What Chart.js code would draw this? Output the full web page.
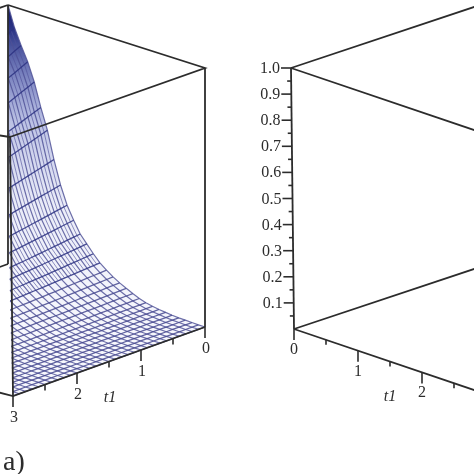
<!DOCTYPE html>
<html>
<head>
<meta charset="utf-8">
<title>t1 surface</title>
<script src="https://cdn.jsdelivr.net/npm/chart.js@4/dist/chart.umd.min.js"></script>
<style>
  html, body { margin: 0; padding: 0; background: #fff; }
  canvas { display: block; filter: blur(0.5px); }
</style>
</head>
<body>
<canvas id="myChart" width="474" height="474"></canvas>
<script>
// heights read along the t1 = 0 edge, for t2 = 0, 0.1 ... 3
const t2Heights = [0, 0, 0.001, 0.002, 0.003, 0.005, 0.008, 0.011, 0.015, 0.021, 0.029,
  0.04, 0.052, 0.065, 0.08, 0.098, 0.118, 0.145, 0.175, 0.205, 0.25,
  0.3, 0.37, 0.46, 0.565, 0.645, 0.735, 0.805, 0.86, 0.92, 1];
// how much a t2 row has dropped, for t1 = 0, 0.1 ... 3
const t1Falloff = [1, 0.985, 0.97, 0.955, 0.94, 0.925, 0.91, 0.895, 0.88, 0.867, 0.855,
  0.842, 0.83, 0.818, 0.806, 0.795, 0.784, 0.773, 0.762, 0.752, 0.742,
  0.732, 0.722, 0.713, 0.704, 0.695, 0.686, 0.678, 0.67, 0.662, 0.654];
// same drop at t1 = 0.05, 0.15 ... for the finer lines on the steep part
const t1FalloffMid = [0.992, 0.978, 0.962, 0.948, 0.932, 0.918, 0.902, 0.888, 0.874, 0.861,
  0.848, 0.836, 0.824, 0.812];
const zTicks = [0.1, 0.2, 0.3, 0.4, 0.5, 0.6, 0.7, 0.8, 0.9, 1.0];
const zMinorTicks = [0.05, 0.15, 0.25, 0.35, 0.45, 0.55, 0.65, 0.75, 0.85, 0.95];
const t1Ticks = [0, 1, 2, 3];
const t1MinorTicks = [0.5, 1.5, 2.5];
const T_MAX = 3;
const STEPS = 30;
const STEEP_FROM = 16;

// view of each 3d box: where t1, t2 and z end up in the page scale
const leftView = { ox: 205, oy: 327, t1x: -64, t1y: 23, t2x: -65.67, t2y: -21, zx: 0, zy: -259, lean: -1 };
const rightView = { ox: 294, oy: 329, t1x: 64, t1y: 21.7, t2x: 65.67, t2y: -21.9, zx: -3, zy: -261, lean: 0 };

function project(v, t1, t2, z) {
  return {
    x: v.ox + t1 * v.t1x + t2 * v.t2x + z * v.zx + t1 * z * v.lean,
    y: v.oy + t1 * v.t1y + t2 * v.t2y + z * v.zy
  };
}

// grid node: j counts t2 steps, k counts t1 steps, the domain is t1 + t2 <= 3
function meshPoint(j, k) {
  return project(leftView, k / 10, j / 10, t2Heights[j] * t1Falloff[k]);
}

function line(points, color, width) {
  return {
    data: points, showLine: true, pointRadius: 0, borderColor: color,
    borderWidth: width, tension: 0, fill: false, spanGaps: true
  };
}

const datasets = [];
const AXIS = '#2c2c2c';

function box(v, p) {
  datasets.push(line(p.map(function (c) { return project(v, c[0], c[1], c[2]); }), AXIS, 1.8));
}

// left box, only the edges that fall inside the crop
box(leftView, [[0, 0, 0], [T_MAX, 0, 0], [T_MAX + 0.1, 0.8, 0]]);
box(leftView, [[0, 0, 0], [0, 0, 1]]);
box(leftView, [[T_MAX, 0, 0], [T_MAX, 0, 1]]);
box(leftView, [[T_MAX, 0, 1], [0, 0, 1], [0, T_MAX, 1]]);
box(leftView, [[T_MAX, 0, 1], [T_MAX + 0.2, 0.6, 1]]);
box(leftView, [[0, T_MAX, 1], [0.25, T_MAX, 1]]);
box(leftView, [[0, T_MAX, 0], [0.25, T_MAX, 0]]);
box(leftView, [[0, T_MAX, 0], [0, T_MAX, 1]]);

// right box
box(rightView, [[0, 0, 0], [0, 0, 1]]);
box(rightView, [[0, 0, 0], [T_MAX, 0, 0]]);
box(rightView, [[0, 0, 0], [0, T_MAX, 0]]);
box(rightView, [[0, 0, 1], [T_MAX, 0, 1]]);
box(rightView, [[0, 0, 1], [0, T_MAX, 1]]);

// t1 ticks hang under the axis
function t1TickMarks(v, values, len) {
  values.forEach(function (t) {
    const p = project(v, t, 0, 0);
    datasets.push(line([p, { x: p.x, y: p.y + len }], AXIS, 1.6));
  });
}
t1TickMarks(leftView, t1Ticks, 11);
t1TickMarks(leftView, t1MinorTicks, 6);
t1TickMarks(rightView, t1Ticks, 11);
t1TickMarks(rightView, t1MinorTicks, 5);

// z ticks stick out left of the right box
function zTickMarks(values, len) {
  values.forEach(function (z) {
    const p = project(rightView, 0, 0, z);
    datasets.push(line([p, { x: p.x - len, y: p.y }], AXIS, 1.6));
  });
}
zTickMarks(zTicks, 10);
zTickMarks(zMinorTicks, 4);

// mesh: one line per t2 row and per t1 column, cut at t1 + t2 = 3
for (let j = 0; j <= STEPS; j++) {
  const pts = [];
  for (let k = 0; k <= STEPS - j; k++) pts.push(meshPoint(j, k));
  datasets.push(line(pts, j >= STEEP_FROM ? 'rgba(45,50,130,0.85)' : 'rgba(72,74,145,0.85)', 1.3));
}
for (let k = 0; k <= STEPS; k++) {
  const pts = [];
  for (let j = 0; j <= STEPS - k; j++) pts.push(meshPoint(j, k));
  datasets.push(line(pts, 'rgba(78,80,150,0.82)', 1.2));
}
t1FalloffMid.forEach(function (fall, k) {
  const pts = [];
  for (let j = STEEP_FROM; j <= STEPS - 1 - k; j++) {
    pts.push(project(leftView, (k + 0.5) / 10, j / 10, t2Heights[j] * fall));
  }
  datasets.push(line(pts, 'rgba(80,82,155,0.7)', 0.9));
});

// tint under the mesh, the steep top reads much darker
const outline = [];
for (let j = 0; j <= STEPS; j++) outline.push(meshPoint(j, 0));
for (let j = STEPS; j >= 0; j--) outline.push(meshPoint(j, STEPS - j));
const tint = line(outline, 'rgba(0,0,0,0)', 0);
tint.fill = 'shape';
tint.backgroundColor = function (context) {
  const g = context.chart.ctx.createLinearGradient(0, 5, 0, 340);
  g.addColorStop(0, 'rgba(18,24,105,1)');
  g.addColorStop(0.08, 'rgba(35,45,130,0.95)');
  g.addColorStop(0.2, 'rgba(70,82,165,0.75)');
  g.addColorStop(0.35, 'rgba(105,118,195,0.45)');
  g.addColorStop(0.6, 'rgba(150,160,220,0.2)');
  g.addColorStop(1, 'rgba(190,195,240,0.12)');
  return g;
};
datasets.push(tint);

// tick labels and captions, placed through the chart's scales
const textPlugin = {
  id: 'boxText',
  afterDatasetsDraw: function (chart) {
    const ctx = chart.ctx;
    const sx = chart.scales.x, sy = chart.scales.y;
    function put(str, x, y, font, align) {
      ctx.font = font;
      ctx.textAlign = align || 'center';
      ctx.textBaseline = 'alphabetic';
      ctx.fillStyle = '#2c2c2c';
      ctx.fillText(str, sx.getPixelForValue(x), sy.getPixelForValue(y));
    }
    const num = '16px "Liberation Serif"';
    const ital = 'italic 16px "Liberation Serif"';
    t1Ticks.forEach(function (t) {
      const a = project(leftView, t, 0, 0);
      put(String(t), a.x + 1, a.y + 26, num);
      if (t < 3) {
        const b = project(rightView, t, 0, 0);
        put(String(t), b.x, b.y + 25, num);
      }
    });
    zTicks.forEach(function (z) {
      const p = project(rightView, 0, 0, z);
      put(z.toFixed(1), p.x - 11, p.y + 5, num, 'right');
    });
    put('t1', 110, 402, ital);
    put('t1', 390, 401, ital);
    put('a)', 3, 470, '28px "Liberation Serif"', 'left');
  }
};

const myChart = new Chart(document.getElementById('myChart'), {
  type: 'scatter',
  data: { datasets: datasets },
  options: {
    responsive: false,
    animation: false,
    layout: { padding: 0 },
    plugins: { legend: { display: false }, tooltip: { enabled: false } },
    scales: {
      x: { type: 'linear', min: 0, max: 474, display: false },
      y: { type: 'linear', min: 0, max: 474, reverse: true, display: false }
    }
  },
  plugins: [textPlugin]
});
</script>
</body>
</html>
